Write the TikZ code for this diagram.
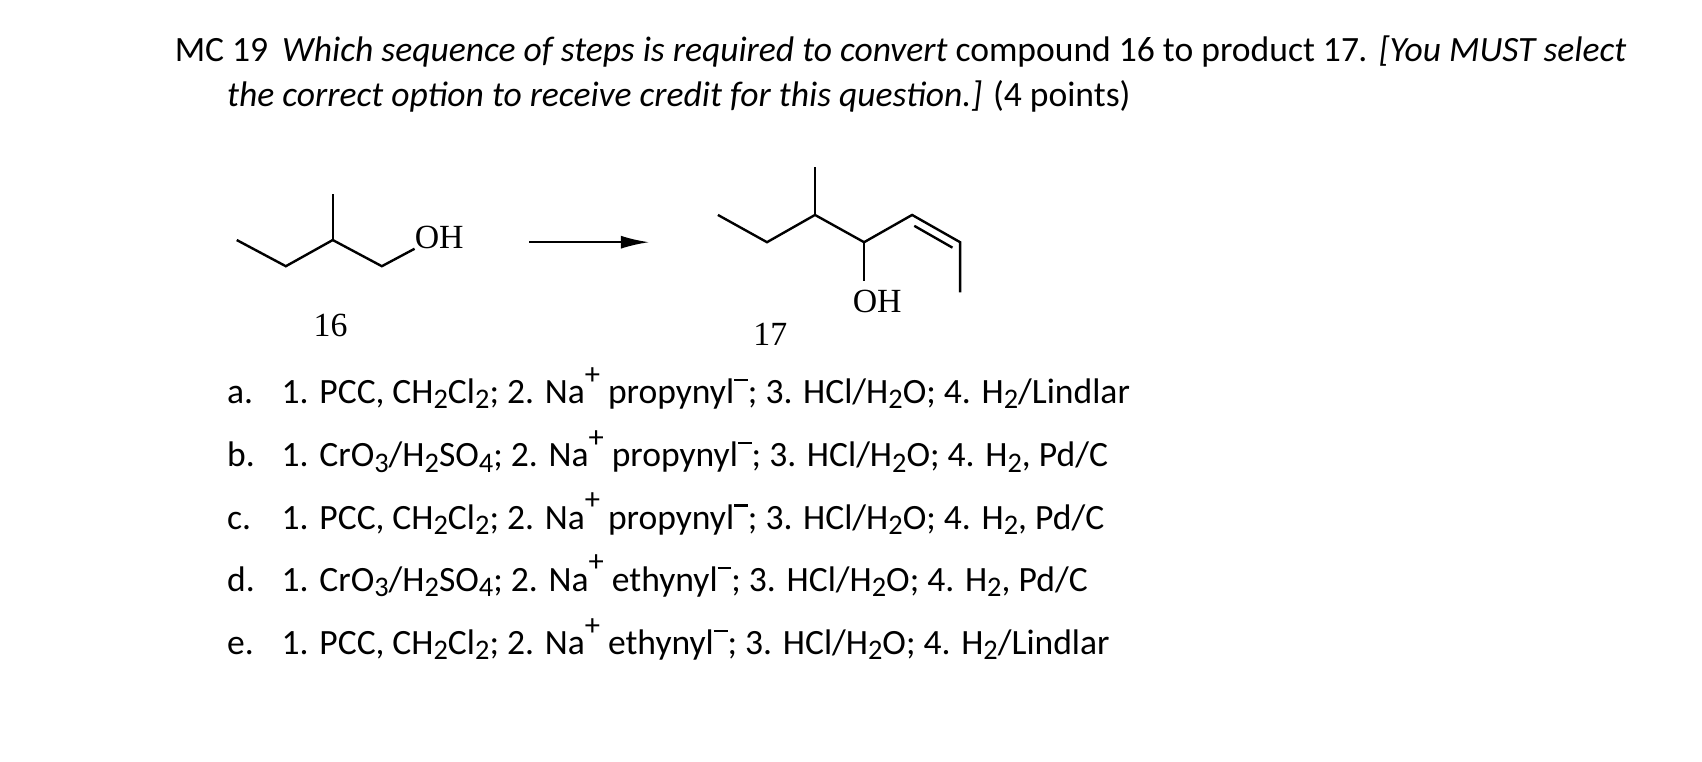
\documentclass[tikz,border=0pt]{standalone}
\usepackage{fontspec}
\usetikzlibrary{arrows.meta}
\setmainfont{Carlito}
\newfontfamily\chem{Liberation Serif}
\newcommand\sbs[1]{\raisebox{-0.3ex}{\fontsize{26}{26}\selectfont #1}}
\newcommand\sps[1]{\raisebox{0.55em}{\fontsize{28}{28}\selectfont #1}}
\newcommand\mns{\rule[0.2ex]{0.45em}{2pt}}
\tikzset{txt/.style={anchor=base west,inner sep=0,font=\fontsize{32.6}{38}\selectfont},
 chemlbl/.style={inner sep=0,font=\chem\fontsize{31}{31}\selectfont},
 bond/.style={line width=2.2pt,line join=miter}}
\begin{document}
\begin{tikzpicture}[x=1pt,y=-1pt]
\useasboundingbox (0,0) rectangle (1560,698);
\node[txt] (h1) at (160,56) {MC 19\, \textit{Which sequence of steps is required to convert} compound 16 to product 17\textit{. [You MUST select}};
\node[txt] (h2) at (208,98) {\textit{the correct option to receive credit for this question.]} (4 points)};
% compound 16
\draw[bond] (217,220) -- (262,244) -- (305,220) -- (350,244) -- (380,228);
\draw[bond] (305,220) -- (305,178);
\node[chemlbl,anchor=west] (oh1) at (380,218) {OH};
\node[chemlbl] (n16) at (303,298) {16};
% arrow
\coordinate (a1) at (485,222); \coordinate (a2) at (595,222);
\draw[line width=2pt,-{Latex[length=26pt,width=12pt]}] (a1) -- (a2);
% compound 17
\draw[bond] (658,197) -- (703,222) -- (747,197) -- (792,222) -- (836,197) -- (880,222) -- (880,268);
\draw[bond] (747,197) -- (747,153);
\draw[bond] (838,207) -- (873,227);
\draw[bond] (792,222) -- (792,258);
\node[chemlbl] (oh2) at (804,276) {OH};
\node[chemlbl] (n17) at (706,306) {17};
% options
\foreach \l/\n/\y/\t in {
 a./1/370/{1. PCC, CH\sbs{2}Cl\sbs{2}; 2. Na\sps{+} propynyl\sps{\mns}; 3. HCl/H\sbs{2}O; 4. H\sbs{2}/Lindlar},
 b./2/428/{1. CrO\sbs{3}/H\sbs{2}SO\sbs{4}; 2. Na\sps{+} propynyl\sps{\mns}; 3. HCl/H\sbs{2}O; 4. H\sbs{2}, Pd/C},
 c./3/485/{1. PCC, CH\sbs{2}Cl\sbs{2}; 2. Na\sps{+} propynyl\sps{\mns}; 3. HCl/H\sbs{2}O; 4. H\sbs{2}, Pd/C},
 d./4/542/{1. CrO\sbs{3}/H\sbs{2}SO\sbs{4}; 2. Na\sps{+} ethynyl\sps{\mns}; 3. HCl/H\sbs{2}O; 4. H\sbs{2}, Pd/C},
 e./5/600/{1. PCC, CH\sbs{2}Cl\sbs{2}; 2. Na\sps{+} ethynyl\sps{\mns}; 3. HCl/H\sbs{2}O; 4. H\sbs{2}/Lindlar}}
{\node[txt] (lab\n) at (208,\y) {\l}; \node[txt] (opt\n) at (258,\y) {\t};}
\end{tikzpicture}
\end{document}
